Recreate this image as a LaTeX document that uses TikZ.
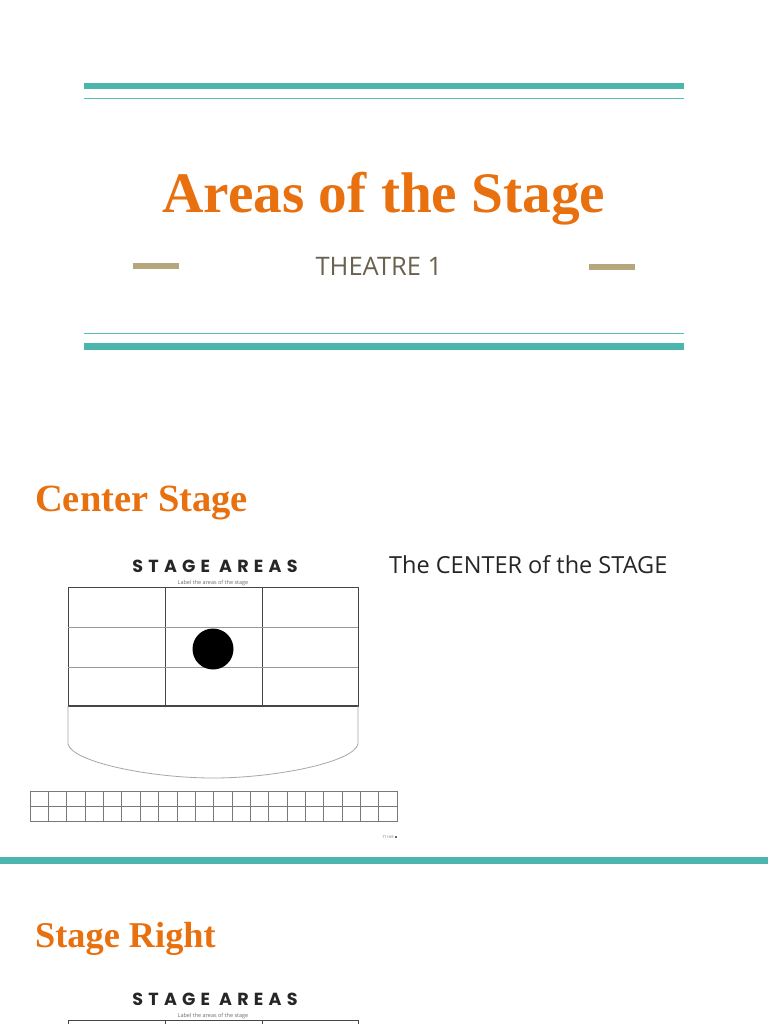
\documentclass[tikz,border=0pt]{standalone}
\usepackage{fontspec}
\setmainfont{Liberation Serif}
\newfontfamily\osans{Open Sans}
\newfontfamily\wide[LetterSpace=30]{Poppins Bold}
\definecolor{teal1}{RGB}{77,182,172}
\definecolor{teal2}{RGB}{90,188,178}
\definecolor{orng}{RGB}{232,112,15}
\definecolor{gold}{RGB}{181,166,124}
\definecolor{taupe}{RGB}{105,98,80}
\definecolor{gridc}{RGB}{70,70,70}
\tikzset{
  title/.style={font=\bfseries\fontsize{57.3}{60}\selectfont, text=orng, inner sep=0pt},
  head/.style={font=\bfseries\fontsize{38.5}{40}\selectfont, text=orng, inner sep=0pt, anchor=base west},
  body/.style={font=\osans\fontsize{23.5}{26}\selectfont, text=black!85, inner sep=0pt, anchor=base west},
  thick teal/.style={line width=6.5pt, draw=teal1},
  thin teal/.style={line width=1.5pt, draw=teal2},
  dash bar/.style={line width=6pt, draw=gold},
  gline/.style={draw=gridc, line width=0.9pt},
  aline/.style={draw=gray!70, line width=0.8pt},
  sa/.style={font=\wide\fontsize{17.5}{19}\selectfont, text=black!85, inner sep=0pt, anchor=base},
  lab/.style={font=\osans\fontsize{5.5}{6}\selectfont, text=gray!85!black, inner sep=0pt, anchor=base}
}
\newcommand{\stagediagram}[1]{%
\begin{scope}[yshift=#1]
  \node[sa] (sa) at (215,572) {STAGE AREAS};
  \node[lab] (lb) at (213,584.5) {Label the areas of the stage};
  % stage grid
  \draw[gline] (68,587) rectangle (358,706);
  \draw[gline] (165,587) -- (165,706) (262,587) -- (262,706);
  \draw[gline, draw=gray!80] (68,627) -- (358,627) (68,667) -- (358,667);
  \draw[draw=gridc, line width=1.6pt] (68,706) -- (358,706);
  % apron
  \draw[aline] (68,706) -- (68,744) .. controls (72,762) and (150,778) .. (213,778)
     .. controls (276,778) and (354,762) .. (358,744) -- (358,706);
  % seating grid
  \draw[draw=gray!95!black, line width=0.7pt] (30,791) rectangle (397,821);
  \draw[draw=gray!95!black, line width=0.6pt] (30,806) -- (397,806);
  \foreach \i in {1,...,19} {\draw[draw=gray!95!black, line width=0.6pt] ({30+\i*18.35},791) -- ({30+\i*18.35},821);}
\end{scope}}
\begin{document}
\begin{tikzpicture}[x=1pt,y=-1pt]
\useasboundingbox (0,0) rectangle (768,1024);
\clip (0,0) rectangle (768,1024);
\fill[white] (0,0) rectangle (768,1024);
% header lines
\draw[thick teal] (84,86) -- (684,86);
\draw[thin teal] (84,98.5) -- (684,98.5);
\draw[thin teal] (84,333.5) -- (684,333.5);
\draw[thick teal] (84,346.5) -- (684,346.5);
\node[title, anchor=base] (t) at (384,213) {Areas of the Stage};
\draw[dash bar] (133,266) -- (179,266);
\draw[dash bar] (589,267) -- (635,267);
\node[font=\osans\fontsize{25.5}{28}\selectfont, text=taupe, inner sep=0pt, anchor=base] (sub) at (379,275) {THEATRE 1};
% section 1
\node[head] (h1) at (35,511) {Center Stage};
\node[body] (b1) at (389,573) {The CENTER of the STAGE};
\stagediagram{0}
\fill[black] (213,649) circle (20.5);
\node[font=\osans\fontsize{3.5}{4}\selectfont, text=gray!80!black, inner sep=0pt, anchor=base east] (ft) at (397,838) {TT HVS \rule{2pt}{2pt}};
% separator
\draw[line width=7pt, draw=teal1] (0,860.5) -- (768,860.5);
% section 2
\node[head, font=\bfseries\fontsize{36.3}{40}\selectfont] (h2) at (35,947) {Stage Right};
\stagediagram{-433}
\end{tikzpicture}
\end{document}
